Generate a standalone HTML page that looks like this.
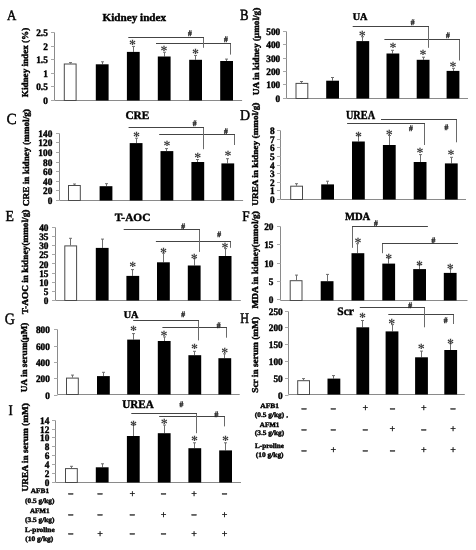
<!DOCTYPE html>
<html><head><meta charset="utf-8"><style>
html,body{margin:0;padding:0;background:#fff;width:476px;height:550px;overflow:hidden}
svg{display:block}
text{font-family:"Liberation Serif",serif;fill:#000;text-rendering:geometricPrecision}
text[font-weight="bold"],.tk{stroke:#000;stroke-width:0.4px}
.let{stroke:#000;stroke-width:0.45px}
.rl{stroke:#000;stroke-width:0.35px}
.tk{font-size:9.3px;font-weight:bold;text-anchor:end}
.ax{stroke:#8a8a8a;stroke-width:1;fill:none}
.eb{stroke:#6e6e6e;stroke-width:1;fill:none}
.br{stroke:#444;stroke-width:1;fill:none}
.ast{font-size:14px;font-weight:bold;text-anchor:middle;fill:#3a3a3a}
.hs{font-size:8.5px;text-anchor:middle;font-weight:bold;fill:#222;stroke:#222;stroke-width:0.35px}
.sym{font-size:10px;text-anchor:middle;stroke:#000;stroke-width:0.3px}
.dash{font-size:9px;text-anchor:middle;font-weight:bold;fill:#222;stroke:#222;stroke-width:0.5px}
</style></head><body>
<svg width="476" height="550" viewBox="0 0 476 550">
<rect width="476" height="550" fill="#fff"/>
<text class="let" font-size="14.47" transform="translate(6.97 19.65) scale(0.892 1)">A</text>
<text font-weight="bold" font-size="10.79" transform="translate(102.53 20.8) scale(1.035 1)">Kidney index</text>
<text font-weight="bold" font-size="9" transform="translate(28 97.14) rotate(-90) scale(1.012 1)">Kidney index (%)</text>
<path class="ax" d="M54.5 32.5V100.5M54.5 100.5H242.1"/>
<path class="ax" stroke="#aaa" style="stroke:#a8a8a8" d="M51 32.5H54.5M51 46.5H54.5M51 59.5H54.5M51 73.5H54.5M51 86.5H54.5M51 100.5H54.5"/>
<text class="tk" transform="translate(47.8 35.86) scale(1 1.07)">2.5</text>
<text class="tk" transform="translate(47.8 49.56) scale(1 1.07)">2</text>
<text class="tk" transform="translate(47.8 63.26) scale(1 1.07)">1.5</text>
<text class="tk" transform="translate(47.8 76.86) scale(1 1.07)">1</text>
<text class="tk" transform="translate(47.8 90.46) scale(1 1.07)">0.5</text>
<text class="tk" transform="translate(47.8 103.96) scale(1 1.07)">0</text>
<path class="eb" d="M70.5 63.5V62.6M69 62.6H72M102.5 64.3V61.8M101 61.8H104M133.5 51.9V46.4M132 46.4H135M164.5 56.5V52.2M163 52.2H166M195.5 59.8V55.4M194 55.4H197M226.5 61V59.1M225 59.1H228"/>
<rect x="64.3" y="64" width="11.8" height="36.5" fill="#fff" stroke="#4a4a4a" stroke-width="1"/>
<rect x="95.8" y="64.3" width="12.8" height="36.2" fill="#000"/>
<rect x="126.9" y="51.9" width="12.8" height="48.6" fill="#000"/>
<rect x="157.8" y="56.5" width="12.8" height="44" fill="#000"/>
<rect x="189.2" y="59.8" width="12.8" height="40.7" fill="#000"/>
<rect x="220.2" y="61" width="12.8" height="39.5" fill="#000"/>
<path class="br" d="M128.3 37.5H204M156 43.5H231"/>
<path class="br" style="stroke:#6a6a6a" d="M203.5 38V47.8M230.5 44V54.6"/>
<text class="ast" x="132.4" y="48.88">*</text>
<text class="ast" x="164" y="54.98">*</text>
<text class="ast" x="195.5" y="57.88">*</text>
<text class="hs" transform="translate(190 35.76) scale(0.9 1)">#</text>
<text class="hs" transform="translate(226 42.06) scale(0.9 1)">#</text>
<text class="let" font-size="15.57" transform="translate(240.11 19.75) scale(0.827 1)">B</text>
<text font-weight="bold" font-size="10.45" transform="translate(352.64 20.3) scale(0.984 1)">UA</text>
<text font-weight="bold" font-size="9" transform="translate(258.7 95.23) rotate(-90) scale(1.024 1)">UA in kidney (µmol/g)</text>
<path class="ax" d="M286.5 31.5V98.5M286.5 98.5H468"/>
<path class="ax" stroke="#aaa" style="stroke:#a8a8a8" d="M283 31.5H286.5M283 44.5H286.5M283 58.5H286.5M283 71.5H286.5M283 84.5H286.5M283 98.5H286.5"/>
<text class="tk" transform="translate(280.2 35.06) scale(1 1.07)">500</text>
<text class="tk" transform="translate(280.2 48.46) scale(1 1.07)">400</text>
<text class="tk" transform="translate(280.2 61.76) scale(1 1.07)">300</text>
<text class="tk" transform="translate(280.2 75.06) scale(1 1.07)">200</text>
<text class="tk" transform="translate(280.2 88.16) scale(1 1.07)">100</text>
<text class="tk" transform="translate(280.2 101.56) scale(1 1.07)">0</text>
<path class="eb" d="M301.5 82.9V81.5M300 81.5H303M332.5 80.7V77.5M331 77.5H334M362.5 41.1V36.7M361 36.7H364M392.5 53.5V50.3M391 50.3H394M423.5 59.8V57.2M422 57.2H425M453.5 70.9V68.3M452 68.3H455"/>
<rect x="296" y="83.4" width="11.8" height="15.1" fill="#fff" stroke="#4a4a4a" stroke-width="1"/>
<rect x="326.2" y="80.7" width="12.8" height="17.8" fill="#000"/>
<rect x="356.4" y="41.1" width="12.8" height="57.4" fill="#000"/>
<rect x="386.5" y="53.5" width="12.8" height="45" fill="#000"/>
<rect x="416.7" y="59.8" width="12.8" height="38.7" fill="#000"/>
<rect x="446.6" y="70.9" width="12.8" height="27.6" fill="#000"/>
<path class="br" d="M352.7 26.5H429M384.4 39.5H460"/>
<path class="br" style="stroke:#6a6a6a" d="M428.5 27V47.8M459.5 40V60.5"/>
<text class="ast" x="362.3" y="40.18">*</text>
<text class="ast" x="393" y="52.08">*</text>
<text class="ast" x="423" y="58.68">*</text>
<text class="ast" x="453" y="71.38">*</text>
<text class="hs" transform="translate(412.6 24.96) scale(0.9 1)">#</text>
<text class="hs" transform="translate(447.8 38.26) scale(0.9 1)">#</text>
<text class="let" font-size="15.45" transform="translate(6.59 123.6) scale(0.988 1)">C</text>
<text font-weight="bold" font-size="11.67" transform="translate(125.43 119.1) scale(0.972 1)">CRE</text>
<text font-weight="bold" font-size="9" transform="translate(28.5 206.16) rotate(-90) scale(1.030 1)">CRE in kidney (mmol/g)</text>
<path class="ax" d="M59.5 133.5V200.5M59.5 200.5H243.1"/>
<path class="ax" stroke="#aaa" style="stroke:#a8a8a8" d="M56 133.5H59.5M56 142.5H59.5M56 152.5H59.5M56 162.5H59.5M56 171.5H59.5M56 181.5H59.5M56 190.5H59.5M56 200.5H59.5"/>
<text class="tk" transform="translate(52.3 136.86) scale(1 1.07)">140</text>
<text class="tk" transform="translate(52.3 146.46) scale(1 1.07)">120</text>
<text class="tk" transform="translate(52.3 155.96) scale(1 1.07)">100</text>
<text class="tk" transform="translate(52.3 165.56) scale(1 1.07)">80</text>
<text class="tk" transform="translate(52.3 175.36) scale(1 1.07)">60</text>
<text class="tk" transform="translate(52.3 184.76) scale(1 1.07)">40</text>
<text class="tk" transform="translate(52.3 194.26) scale(1 1.07)">20</text>
<text class="tk" transform="translate(52.3 203.86) scale(1 1.07)">0</text>
<path class="eb" d="M74.5 185V184M73 184H76M106.5 186.2V183.7M105 183.7H108M136.5 143.1V138.2M135 138.2H138M166.5 151.1V148.6M165 148.6H168M197.5 162V159.5M196 159.5H199M227.5 163.4V158.7M226 158.7H229"/>
<rect x="68.5" y="185.5" width="11.8" height="15" fill="#fff" stroke="#4a4a4a" stroke-width="1"/>
<rect x="99.6" y="186.2" width="12.8" height="14.3" fill="#000"/>
<rect x="129.7" y="143.1" width="12.8" height="57.4" fill="#000"/>
<rect x="160.5" y="151.1" width="12.8" height="49.4" fill="#000"/>
<rect x="191.4" y="162" width="12.8" height="38.5" fill="#000"/>
<rect x="221.4" y="163.4" width="12.8" height="37.1" fill="#000"/>
<path class="br" d="M128.6 127.5H204M159.2 134.5H235"/>
<path class="br" style="stroke:#6a6a6a" d="M203.5 128V149.2M234.5 135V145"/>
<text class="ast" x="136.5" y="140.68">*</text>
<text class="ast" x="167" y="150.28">*</text>
<text class="ast" x="197.8" y="161.98">*</text>
<text class="ast" x="228" y="159.78">*</text>
<text class="hs" transform="translate(194.7 126.46) scale(0.9 1)">#</text>
<text class="hs" transform="translate(226 133.86) scale(0.9 1)">#</text>
<text class="let" font-size="14.96" transform="translate(240.08 120) scale(0.936 1)">D</text>
<text font-weight="bold" font-size="12.27" transform="translate(345.94 119.1) scale(0.838 1)">UREA</text>
<text font-weight="bold" font-size="8.6" transform="translate(257.9 205.73) rotate(-90) scale(1.077 1)">UREA in kidney (mmol/g)</text>
<path class="ax" d="M280.5 130.5V199.5M280.5 199.5H466"/>
<path class="ax" stroke="#aaa" style="stroke:#a8a8a8" d="M277 130.5H280.5M277 139.5H280.5M277 147.5H280.5M277 156.5H280.5M277 165.5H280.5M277 173.5H280.5M277 182.5H280.5M277 190.5H280.5M277 199.5H280.5"/>
<text class="tk" transform="translate(274.6 134.16) scale(1 1.07)">8</text>
<text class="tk" transform="translate(274.6 142.76) scale(1 1.07)">7</text>
<text class="tk" transform="translate(274.6 151.36) scale(1 1.07)">6</text>
<text class="tk" transform="translate(274.6 159.96) scale(1 1.07)">5</text>
<text class="tk" transform="translate(274.6 168.56) scale(1 1.07)">4</text>
<text class="tk" transform="translate(274.6 177.16) scale(1 1.07)">3</text>
<text class="tk" transform="translate(274.6 185.76) scale(1 1.07)">2</text>
<text class="tk" transform="translate(274.6 194.36) scale(1 1.07)">1</text>
<text class="tk" transform="translate(274.6 202.96) scale(1 1.07)">0</text>
<path class="eb" d="M296.5 185.7V183.7M295 183.7H298M327.5 184.4V181.2M326 181.2H329M358.5 141.5V135M357 135H360M389.5 145V135.5M388 135.5H391M420.5 162V154.6M419 154.6H422M451.5 163.4V157.3M450 157.3H453"/>
<rect x="290.7" y="186.2" width="11.8" height="13.3" fill="#fff" stroke="#4a4a4a" stroke-width="1"/>
<rect x="321.2" y="184.4" width="12.8" height="15.1" fill="#000"/>
<rect x="352" y="141.5" width="12.8" height="58" fill="#000"/>
<rect x="382.9" y="145" width="12.8" height="54.5" fill="#000"/>
<rect x="413.7" y="162" width="12.8" height="37.5" fill="#000"/>
<rect x="444.9" y="163.4" width="12.8" height="36.1" fill="#000"/>
<path class="br" d="M347.1 123.5H425M381 119.5H457"/>
<path class="br" style="stroke:#6a6a6a" d="M424.5 124V145M456.5 120V142.3"/>
<text class="ast" x="358.5" y="140.68">*</text>
<text class="ast" x="389.3" y="138.78">*</text>
<text class="ast" x="420" y="157.08">*</text>
<text class="ast" x="451" y="159.28">*</text>
<text class="hs" transform="translate(411 131.16) scale(0.9 1)">#</text>
<text class="hs" transform="translate(446.5 129.76) scale(0.9 1)">#</text>
<text class="let" font-size="15.27" transform="translate(5.39 220.9) scale(0.902 1)">E</text>
<text font-weight="bold" font-size="11.06" transform="translate(114.83 220.7) scale(1.029 1)">T-AOC</text>
<text font-weight="bold" font-size="9" transform="translate(28.2 314.24) rotate(-90) scale(1.034 1)">T-AOC in kidney(mmol/g)</text>
<path class="ax" d="M55.5 227.5V300.5M55.5 300.5H240.8"/>
<path class="ax" stroke="#aaa" style="stroke:#a8a8a8" d="M52 227.5H55.5M52 236.5H55.5M52 245.5H55.5M52 254.5H55.5M52 263.5H55.5M52 273.5H55.5M52 282.5H55.5M52 291.5H55.5M52 300.5H55.5"/>
<text class="tk" transform="translate(48.5 231.26) scale(1 1.07)">40</text>
<text class="tk" transform="translate(48.5 240.33) scale(1 1.07)">35</text>
<text class="tk" transform="translate(48.5 249.4) scale(1 1.07)">30</text>
<text class="tk" transform="translate(48.5 258.47) scale(1 1.07)">25</text>
<text class="tk" transform="translate(48.5 267.54) scale(1 1.07)">20</text>
<text class="tk" transform="translate(48.5 276.61) scale(1 1.07)">15</text>
<text class="tk" transform="translate(48.5 285.68) scale(1 1.07)">10</text>
<text class="tk" transform="translate(48.5 294.75) scale(1 1.07)">5</text>
<text class="tk" transform="translate(48.5 303.82) scale(1 1.07)">0</text>
<path class="eb" d="M70.5 245.4V238.3M69 238.3H72M102.5 247.9V239.1M101 239.1H104M132.5 275.9V269.6M131 269.6H134M163.5 262.3V253.2M162 253.2H165M194.5 265.5V258.7M193 258.7H196M225.5 256V248.6M224 248.6H227"/>
<rect x="64.8" y="245.9" width="11.8" height="54.6" fill="#fff" stroke="#4a4a4a" stroke-width="1"/>
<rect x="95.8" y="247.9" width="12.8" height="52.6" fill="#000"/>
<rect x="126.4" y="275.9" width="12.8" height="24.6" fill="#000"/>
<rect x="157" y="262.3" width="12.8" height="38.2" fill="#000"/>
<rect x="187.8" y="265.5" width="12.8" height="35" fill="#000"/>
<rect x="218.7" y="256" width="12.8" height="44.5" fill="#000"/>
<path class="br" d="M123.7 229.5H200M155.9 241.5H231"/>
<path class="br" style="stroke:#6a6a6a" d="M199.5 230V251.9M230.5 242V247.8"/>
<text class="ast" x="132.8" y="271.28">*</text>
<text class="ast" x="163.5" y="257.08">*</text>
<text class="ast" x="194.3" y="262.58">*</text>
<text class="ast" x="225" y="251.58">*</text>
<text class="hs" transform="translate(183.2 228.96) scale(0.9 1)">#</text>
<text class="hs" transform="translate(219.2 237.46) scale(0.9 1)">#</text>
<text class="let" font-size="14.66" transform="translate(242.2 220.8) scale(0.905 1)">F</text>
<text font-weight="bold" font-size="10.91" transform="translate(344.94 219.5) scale(0.973 1)">MDA</text>
<text font-weight="bold" font-size="9" transform="translate(257.9 308.54) rotate(-90) scale(1.036 1)">MDA in kidney(mmol/g)</text>
<path class="ax" d="M280.5 226.5V300.5M280.5 300.5H467.5"/>
<path class="ax" stroke="#aaa" style="stroke:#a8a8a8" d="M277 226.5H280.5M277 244.5H280.5M277 263.5H280.5M277 281.5H280.5M277 299.5H280.5"/>
<text class="tk" transform="translate(273.5 229.56) scale(1 1.07)">20</text>
<text class="tk" transform="translate(273.5 247.96) scale(1 1.07)">15</text>
<text class="tk" transform="translate(273.5 266.56) scale(1 1.07)">10</text>
<text class="tk" transform="translate(273.5 284.96) scale(1 1.07)">5</text>
<text class="tk" transform="translate(273.5 303.36) scale(1 1.07)">0</text>
<path class="eb" d="M296.5 280.2V275.1M295 275.1H298M327.5 281.2V274.4M326 274.4H329M357.5 253.2V243.7M356 243.7H359M388.5 263.6V257.9M387 257.9H390M419.5 269.1V264.7M418 264.7H421M450.5 272.9V268.8M449 268.8H452"/>
<rect x="290.2" y="280.7" width="11.8" height="19.8" fill="#fff" stroke="#4a4a4a" stroke-width="1"/>
<rect x="320.7" y="281.2" width="12.8" height="19.3" fill="#000"/>
<rect x="351.5" y="253.2" width="12.8" height="47.3" fill="#000"/>
<rect x="382.3" y="263.6" width="12.8" height="36.9" fill="#000"/>
<rect x="413.2" y="269.1" width="12.8" height="31.4" fill="#000"/>
<rect x="443.8" y="272.9" width="12.8" height="27.6" fill="#000"/>
<path class="br" d="M352 226.5H427.9M382 243.5H458"/>
<path class="br" style="stroke:#6a6a6a" d="M352.5 227V247.8M382.5 244V253.2"/>
<text class="ast" x="358" y="246.98">*</text>
<text class="ast" x="388.8" y="262.58">*</text>
<text class="ast" x="419.6" y="270.18">*</text>
<text class="ast" x="450.3" y="273.48">*</text>
<text class="hs" transform="translate(376 226.46) scale(0.9 1)">#</text>
<text class="hs" transform="translate(433.4 243.46) scale(0.9 1)">#</text>
<text class="let" font-size="15.91" transform="translate(4.74 323.8) scale(0.880 1)">G</text>
<text font-weight="bold" font-size="10.45" transform="translate(123.64 318.3) scale(0.984 1)">UA</text>
<text font-weight="bold" font-size="9" transform="translate(27.1 392.13) rotate(-90) scale(1.019 1)">UA in serum(µM)</text>
<path class="ax" d="M57.5 329.5V394.5M57.5 394.5H239.7"/>
<path class="ax" stroke="#aaa" style="stroke:#a8a8a8" d="M54 329.5H57.5M54 346.5H57.5M54 362.5H57.5M54 378.5H57.5M54 395.5H57.5"/>
<text class="tk" transform="translate(49.9 333.26) scale(1 1.07)">800</text>
<text class="tk" transform="translate(49.9 349.66) scale(1 1.07)">600</text>
<text class="tk" transform="translate(49.9 365.86) scale(1 1.07)">400</text>
<text class="tk" transform="translate(49.9 382.16) scale(1 1.07)">200</text>
<text class="tk" transform="translate(49.9 398.56) scale(1 1.07)">0</text>
<path class="eb" d="M72.5 377.6V375.1M71 375.1H74M103.5 376.1V372.3M102 372.3H105M133.5 339.6V333.6M132 333.6H135M164.5 341V336.9M163 336.9H166M194.5 355.2V351.3M193 351.3H196M224.5 358.2V353.8M223 353.8H226"/>
<rect x="66.5" y="378.1" width="11.8" height="16.4" fill="#fff" stroke="#4a4a4a" stroke-width="1"/>
<rect x="97" y="376.1" width="12.8" height="18.4" fill="#000"/>
<rect x="127.2" y="339.6" width="12.8" height="54.9" fill="#000"/>
<rect x="157.8" y="341" width="12.8" height="53.5" fill="#000"/>
<rect x="188.4" y="355.2" width="12.8" height="39.3" fill="#000"/>
<rect x="218.4" y="358.2" width="12.8" height="36.3" fill="#000"/>
<path class="br" d="M133.2 320.5H199M162.4 327.5H227"/>
<path class="br" style="stroke:#6a6a6a" d="M198.5 321V340.4M226.5 328V337.7"/>
<text class="ast" x="133.5" y="335.28">*</text>
<text class="ast" x="164" y="339.88">*</text>
<text class="ast" x="194.6" y="352.98">*</text>
<text class="ast" x="224.7" y="356.58">*</text>
<text class="hs" transform="translate(183.2 316.66) scale(0.9 1)">#</text>
<text class="hs" transform="translate(218.7 327.86) scale(0.9 1)">#</text>
<text class="let" font-size="14.5" transform="translate(240.14 323.1) scale(0.829 1)">H</text>
<text font-weight="bold" font-size="11.52" transform="translate(337.37 315.4) scale(0.999 1)">Scr</text>
<text font-weight="bold" font-size="9" transform="translate(258 392.81) rotate(-90) scale(1.038 1)">Scr in serum (mM)</text>
<path class="ax" d="M288.5 311.5V394.5M288.5 394.5H464.8"/>
<path class="ax" stroke="#aaa" style="stroke:#a8a8a8" d="M285 311.5H288.5M285 327.5H288.5M285 344.5H288.5M285 361.5H288.5M285 378.5H288.5M285 395.5H288.5"/>
<text class="tk" transform="translate(282.7 314.86) scale(1 1.07)">250</text>
<text class="tk" transform="translate(282.7 331.26) scale(1 1.07)">200</text>
<text class="tk" transform="translate(282.7 348.16) scale(1 1.07)">150</text>
<text class="tk" transform="translate(282.7 364.86) scale(1 1.07)">100</text>
<text class="tk" transform="translate(282.7 381.66) scale(1 1.07)">50</text>
<text class="tk" transform="translate(282.7 398.56) scale(1 1.07)">0</text>
<path class="eb" d="M303.5 380.2V378.6M302 378.6H305M333.5 378.6V375.6M332 375.6H335M362.5 327.3V320.5M361 320.5H364M392.5 331.4V324.6M391 324.6H394M421.5 357.3V351.1M420 351.1H423M450.5 350V343.7M449 343.7H452"/>
<rect x="297.7" y="380.7" width="11.8" height="13.8" fill="#fff" stroke="#4a4a4a" stroke-width="1"/>
<rect x="327.5" y="378.6" width="12.8" height="15.9" fill="#000"/>
<rect x="356.4" y="327.3" width="12.8" height="67.2" fill="#000"/>
<rect x="385.6" y="331.4" width="12.8" height="63.1" fill="#000"/>
<rect x="415.1" y="357.3" width="12.8" height="37.2" fill="#000"/>
<rect x="444.3" y="350" width="12.8" height="44.5" fill="#000"/>
<path class="br" d="M359.8 307.5H425M388.3 314.5H454"/>
<path class="br" style="stroke:#6a6a6a" d="M424.5 308V327.3M453.5 315V324"/>
<text class="ast" x="362.5" y="321.58">*</text>
<text class="ast" x="391.8" y="328.38">*</text>
<text class="ast" x="421.3" y="352.98">*</text>
<text class="ast" x="450.5" y="347.58">*</text>
<text class="hs" transform="translate(410.2 308.46) scale(0.9 1)">#</text>
<text class="hs" transform="translate(445.7 322.96) scale(0.9 1)">#</text>
<text class="rl" font-weight="bold" font-size="7" transform="translate(260.32 407.9) scale(1.071 1)">AFB1</text>
<text class="rl" font-weight="bold" font-size="7" transform="translate(254.77 416.5) scale(1.049 1)">(0.5 g/kg)</text>
<text class="rl" font-weight="bold" font-size="7" transform="translate(259.83 426.7) scale(1.000 1)">AFM1</text>
<text class="rl" font-weight="bold" font-size="7" transform="translate(254.77 435.3) scale(1.049 1)">(3.5 g/kg)</text>
<text class="rl" font-weight="bold" font-size="7" transform="translate(254.99 447.9) scale(1.025 1)">L-proline</text>
<text class="rl" font-weight="bold" font-size="7" transform="translate(255.87 456.6) scale(1.054 1)">(10 g/kg)</text>
<text class="dash" x="304" y="410.56">–</text>
<text class="dash" x="333.3" y="410.56">–</text>
<text class="sym" x="365.2" y="411.1">+</text>
<text class="dash" x="392.4" y="410.56">–</text>
<text class="sym" x="423.8" y="411.1">+</text>
<text class="dash" x="453" y="410.56">–</text>
<text class="dash" x="304" y="431.76">–</text>
<text class="dash" x="333.3" y="431.76">–</text>
<text class="dash" x="365.2" y="431.76">–</text>
<text class="sym" x="392.4" y="432.1">+</text>
<text class="dash" x="423.8" y="431.76">–</text>
<text class="sym" x="453" y="432.1">+</text>
<text class="dash" x="304" y="452.86">–</text>
<text class="sym" x="333.3" y="453.3">+</text>
<text class="dash" x="365.2" y="452.86">–</text>
<text class="dash" x="392.4" y="452.86">–</text>
<text class="sym" x="423.8" y="453.3">+</text>
<text class="sym" x="453" y="453.3">+</text>
<text class="let" font-size="14.66" transform="translate(8.45 414.9) scale(0.875 1)">I</text>
<text font-weight="bold" font-size="11.52" transform="translate(122.32 408.4) scale(0.965 1)">UREA</text>
<text font-weight="bold" font-size="9" transform="translate(28.2 491.43) rotate(-90) scale(1.036 1)">UREA in serum (mM)</text>
<path class="ax" d="M55.5 420.5V482.5M55.5 482.5H241"/>
<path class="ax" stroke="#aaa" style="stroke:#a8a8a8" d="M52 420.5H55.5M52 429.5H55.5M52 437.5H55.5M52 446.5H55.5M52 455.5H55.5M52 464.5H55.5M52 473.5H55.5M52 482.5H55.5"/>
<text class="tk" transform="translate(49.3 423.76) scale(1 1.07)">14</text>
<text class="tk" transform="translate(49.3 432.62) scale(1 1.07)">12</text>
<text class="tk" transform="translate(49.3 441.48) scale(1 1.07)">10</text>
<text class="tk" transform="translate(49.3 450.34) scale(1 1.07)">8</text>
<text class="tk" transform="translate(49.3 459.2) scale(1 1.07)">6</text>
<text class="tk" transform="translate(49.3 468.06) scale(1 1.07)">4</text>
<text class="tk" transform="translate(49.3 476.92) scale(1 1.07)">2</text>
<text class="tk" transform="translate(49.3 485.78) scale(1 1.07)">0</text>
<path class="eb" d="M71.5 468.1V466.3M70 466.3H73M102.5 467.3V463.8M101 463.8H104M133.5 436V425M132 425H135M164.5 433.2V425M163 425H166M194.5 448.2V442.8M193 442.8H196M225.5 450.4V442.8M224 442.8H227"/>
<rect x="65.5" y="468.6" width="11.8" height="13.9" fill="#fff" stroke="#4a4a4a" stroke-width="1"/>
<rect x="95.8" y="467.3" width="12.8" height="15.2" fill="#000"/>
<rect x="126.9" y="436" width="12.8" height="46.5" fill="#000"/>
<rect x="157.8" y="433.2" width="12.8" height="49.3" fill="#000"/>
<rect x="188.4" y="448.2" width="12.8" height="34.3" fill="#000"/>
<rect x="219.2" y="450.4" width="12.8" height="32.1" fill="#000"/>
<path class="br" d="M131.3 413.5H197M159.2 416.5H225"/>
<path class="br" style="stroke:#6a6a6a" d="M196.5 414V433.2M224.5 417V426.4"/>
<text class="ast" x="133.5" y="430.28">*</text>
<text class="ast" x="164.3" y="428.38">*</text>
<text class="ast" x="194.6" y="444.68">*</text>
<text class="ast" x="225.5" y="444.68">*</text>
<text class="hs" transform="translate(181.5 407.06) scale(0.9 1)">#</text>
<text class="hs" transform="translate(216.5 417.16) scale(0.9 1)">#</text>
<text class="rl" font-weight="bold" font-size="7" transform="translate(30.83 493.3) scale(1.042 1)">AFB1</text>
<text class="rl" font-weight="bold" font-size="7" transform="translate(25.07 502.7) scale(1.049 1)">(0.5 g/kg)</text>
<text class="rl" font-weight="bold" font-size="7" transform="translate(29.93 512.9) scale(1.010 1)">AFM1</text>
<text class="rl" font-weight="bold" font-size="7" transform="translate(25.07 521.5) scale(1.049 1)">(3.5 g/kg)</text>
<text class="rl" font-weight="bold" font-size="7" transform="translate(24.99 532) scale(1.050 1)">L-proline</text>
<text class="rl" font-weight="bold" font-size="7" transform="translate(25.26 540.8) scale(1.069 1)">(10 g/kg)</text>
<text class="dash" x="70.7" y="496.16">–</text>
<text class="dash" x="100" y="496.16">–</text>
<text class="sym" x="132.2" y="496.6">+</text>
<text class="dash" x="163.6" y="496.16">–</text>
<text class="sym" x="194" y="496.6">+</text>
<text class="dash" x="224.5" y="496.16">–</text>
<text class="dash" x="70.7" y="517.26">–</text>
<text class="dash" x="100" y="517.26">–</text>
<text class="dash" x="132.2" y="517.26">–</text>
<text class="sym" x="163.6" y="517.7">+</text>
<text class="dash" x="194" y="517.26">–</text>
<text class="sym" x="224.5" y="517.7">+</text>
<text class="dash" x="70.7" y="536.46">–</text>
<text class="sym" x="100" y="536.8">+</text>
<text class="dash" x="132.2" y="536.46">–</text>
<text class="dash" x="163.6" y="536.46">–</text>
<text class="sym" x="194" y="536.8">+</text>
<text class="sym" x="224.5" y="536.8">+</text>
<text class="rl" font-weight="bold" font-size="6" x="286.6" y="417.2">,</text>
</svg>
</body></html>
